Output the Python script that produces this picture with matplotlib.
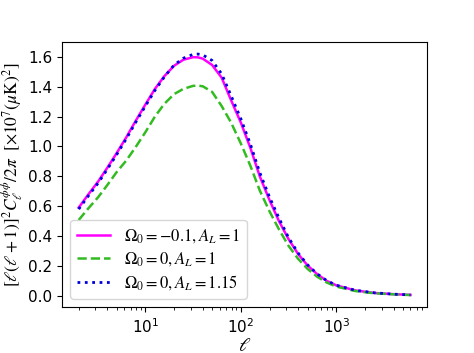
import numpy as np
import matplotlib
matplotlib.use("Agg")
import matplotlib.pyplot as plt

plt.rcParams['mathtext.fontset'] = 'stix'

# multipoles and lensing potential power, in units of 1e7 (muK)^2
ell = [2, 2.5, 3.2, 4, 5, 6.3, 7.9, 10, 12.6, 15.8, 20, 25, 31.6, 35.5, 40,
       50, 63, 79, 100, 126, 158, 200, 251, 316, 398, 501, 631, 794, 1000,
       1585, 2512, 3981, 6000]

# Omega_0 = -0.1, A_L = 1
cl_neg = [0.59, 0.675, 0.765, 0.858, 0.955, 1.06, 1.17, 1.28, 1.385, 1.47,
          1.54, 1.58, 1.597, 1.596, 1.587, 1.545, 1.46, 1.31, 1.16, 0.99,
          0.80, 0.64, 0.50, 0.38, 0.28, 0.203, 0.145, 0.10, 0.07, 0.036,
          0.019, 0.011, 0.006]

# Omega_0 = 0, A_L = 1
cl_zero = [0.507, 0.582, 0.66, 0.742, 0.828, 0.905, 0.995, 1.095, 1.20,
           1.285, 1.35, 1.385, 1.405, 1.407, 1.402, 1.365, 1.27, 1.16, 1.02,
           0.87, 0.705, 0.565, 0.445, 0.335, 0.248, 0.18, 0.128, 0.089,
           0.062, 0.032, 0.017, 0.01, 0.005]

# Omega_0 = 0, A_L = 1.15
cl_al = [0.58, 0.665, 0.755, 0.848, 0.945, 1.05, 1.16, 1.27, 1.375, 1.465,
         1.545, 1.59, 1.616, 1.618, 1.612, 1.575, 1.485, 1.34, 1.185, 1.015,
         0.825, 0.66, 0.52, 0.39, 0.287, 0.207, 0.147, 0.102, 0.071, 0.037,
         0.02, 0.011, 0.006]

fig = plt.figure(figsize=(4.74, 3.53), dpi=100)
ax = fig.add_axes([0.131, 0.130, 0.770, 0.751])

ax.plot(ell, cl_neg, '-', color='#ff00ff', lw=1.8,
        label=r'$\Omega_0=-0.1, A_L=1$')
ax.plot(ell, cl_zero, '--', color='#33bb22', lw=1.8,
        label=r'$\Omega_0=0, A_L=1$')
ax.plot(ell, cl_al, ':', color='#0000dd', lw=2.0,
        label=r'$\Omega_0=0, A_L=1.15$')

ax.set_xscale('log')
ax.set_yticks(np.arange(0, 1.61, 0.2))
ax.set_xlabel(r'$\ell$', fontsize=14, labelpad=0)
ax.set_ylabel(r'$[\ell(\ell+1)]^2C_\ell^{\phi\phi}/2\pi\ \ [\times10^7(\mu{\rm K})^2]$',
              fontsize=12.5, labelpad=2)
ax.tick_params(labelsize=11)
ax.legend(loc='lower left', fontsize=12, handlelength=2.0, labelspacing=0.3)

fig.savefig('out.png', dpi=100)
